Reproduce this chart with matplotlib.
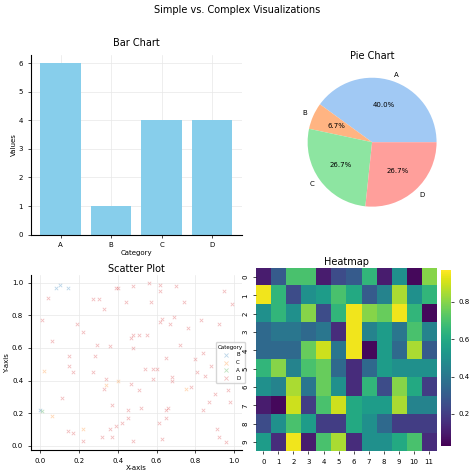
import matplotlib
matplotlib.use("Agg")
import matplotlib.pyplot as plt
import numpy as np

bar_cats = ["A", "B", "C", "D"]
bar_vals = [6, 1, 4, 4]
pie_colors = ["#a1c9f4", "#ffb482", "#8de5a1", "#ff9f9b"]

sc_x = [0.01,0.02,0.04,0.06,0.06,0.08,0.10,0.11,0.14,0.14,0.15,0.15,0.17,0.17,0.19,0.22,0.22,0.22,0.27,0.27,0.28,0.29,0.30,0.32,0.33,0.33,0.34,0.34,0.36,0.36,0.37,0.37,0.39,0.39,0.40,0.40,0.42,0.44,0.45,0.45,0.47,0.47,0.48,0.48,0.48,0.48,0.51,0.51,0.52,0.54,0.55,0.56,0.57,0.58,0.58,0.60,0.61,0.62,0.62,0.62,0.63,0.63,0.65,0.65,0.65,0.66,0.67,0.68,0.68,0.69,0.70,0.72,0.74,0.75,0.76,0.78,0.80,0.81,0.83,0.84,0.84,0.85,0.87,0.88,0.90,0.91,0.92,0.92,0.95,0.96,0.97,0.98,0.99,0.01,0.00]
sc_y = [0.77,0.46,0.91,0.64,0.18,0.97,0.99,0.29,0.09,0.97,0.49,0.55,0.08,0.45,0.75,0.70,0.10,0.03,0.45,0.90,0.55,0.62,0.90,0.05,0.35,0.84,0.37,0.41,0.10,0.61,0.25,0.05,0.12,0.97,0.40,0.97,0.14,0.88,0.17,0.22,0.38,0.66,0.03,0.60,0.68,0.98,0.34,0.68,0.23,0.47,0.68,1.00,0.88,0.41,0.47,0.47,0.14,0.76,0.95,0.99,0.04,0.78,0.17,0.22,0.54,0.23,0.75,0.42,0.40,0.79,0.98,0.62,0.88,0.35,0.72,0.36,0.53,0.45,0.77,0.57,0.22,0.43,0.27,0.49,0.32,0.10,0.05,0.75,0.95,0.02,0.34,0.27,0.87,0.21,0.22]
sc_cat = ["D","C","D","D","C","B","B","D","D","B","D","D","D","D","D","D","C","D","D","D","D","D","D","D","D","D","C","D","D","D","D","D","D","D","C","D","D","D","D","D","D","D","D","D","D","D","D","D","D","D","D","D","D","D","D","D","D","D","D","D","D","D","D","D","D","D","D","D","D","D","D","D","D","C","D","D","D","D","D","D","D","D","D","D","D","D","D","D","D","D","D","D","D","A","B"]
legend_order = ["B", "C", "A", "D"]
cat_colors = {"B": "#1f77b4", "C": "#ff7f0e", "A": "#2ca02c", "D": "#d62728"}

heat = np.array([
 [.10,.30,.70,.70,.10,.25,.30,.65,.10,.50,.05,.80],
 [.95,.65,.25,.50,.55,.70,.60,.30,.45,.85,.50,.65],
 [.50,.65,.50,.80,.25,.65,.95,.80,.75,.95,.65,.05],
 [.35,.40,.40,.35,.40,.15,.95,.45,.55,.40,.70,.45],
 [.35,.35,.35,.75,.90,.40,.95,.05,.55,.35,.85,.30],
 [.65,.80,.45,.70,.75,.35,.15,.35,.55,.50,.50,.50],
 [.50,.45,.85,.40,.75,.50,.15,.65,.25,.80,.60,.20],
 [.10,.05,.90,.20,.70,.90,.60,.55,.55,.85,.45,.45],
 [.25,.50,.70,.55,.20,.20,.60,.50,.35,.20,.20,.20],
 [.55,.15,.95,.10,.70,.85,.15,.50,.50,.60,.70,.15]])

plt.rcParams["font.family"] = "DejaVu Sans"
fig = plt.figure(figsize=(4.74, 4.74), dpi=100)
fig.suptitle("Simple vs. Complex Visualizations", fontsize=7, y=0.99)

def style(ax):
    ax.grid(True, color="#e8e8e8", lw=0.5)
    ax.set_axisbelow(True)
    for s in ["top", "right"]:
        ax.spines[s].set_visible(False)
    ax.tick_params(labelsize=5, length=2, width=0.5)

ax1 = fig.add_axes([0.065, 0.505, 0.445, 0.38])
style(ax1)
ax1.bar(bar_cats, bar_vals, color="skyblue")
ax1.set_title("Bar Chart", fontsize=7)
ax1.set_xlabel("Category", fontsize=5, labelpad=1)
ax1.set_ylabel("Values", fontsize=5, labelpad=1)

ax2 = fig.add_axes([0.615, 0.52, 0.34, 0.36])
ax2.pie(bar_vals, labels=bar_cats, colors=pie_colors, autopct="%1.1f%%",
        textprops={"fontsize": 5})
ax2.set_title("Pie Chart", fontsize=7, pad=2)

ax3 = fig.add_axes([0.065, 0.05, 0.445, 0.37])
style(ax3)
for c in legend_order:
    xs = [x for x, k in zip(sc_x, sc_cat) if k == c]
    ys = [y for y, k in zip(sc_y, sc_cat) if k == c]
    ax3.scatter(xs, ys, marker="x", s=6, lw=0.6, color=cat_colors[c], alpha=0.3, label=c)
ax3.set_title("Scatter Plot", fontsize=7, pad=2)
ax3.set_xlabel("X-axis", fontsize=5, labelpad=1)
ax3.set_ylabel("Y-axis", fontsize=5, labelpad=1)
ax3.set_xticks([0, 0.2, 0.4, 0.6, 0.8, 1.0])
ax3.legend(title="Category", fontsize=4, title_fontsize=4, loc="center right",
           bbox_to_anchor=(1.03, 0.5), markerscale=1.2)

ax4 = fig.add_axes([0.54, 0.048, 0.38, 0.387])
im = ax4.imshow(heat, cmap="viridis", aspect="auto", vmin=0.03, vmax=0.97)
ax4.set_title("Heatmap", fontsize=7, pad=2)
ax4.set_xticks(range(12))
ax4.set_yticks(range(10))
ax4.set_yticklabels([str(i) for i in range(10)], rotation=90, va="center")
ax4.tick_params(labelsize=5, length=2, width=0.5)
for s in ax4.spines.values():
    s.set_visible(False)
cax = fig.add_axes([0.93, 0.06, 0.022, 0.37])
cb = fig.colorbar(im, cax=cax)
cb.set_ticks([0.2, 0.4, 0.6, 0.8])
cb.ax.tick_params(labelsize=5, length=2, width=0.5)
cb.outline.set_visible(False)

fig.savefig("out.png", dpi=100)
